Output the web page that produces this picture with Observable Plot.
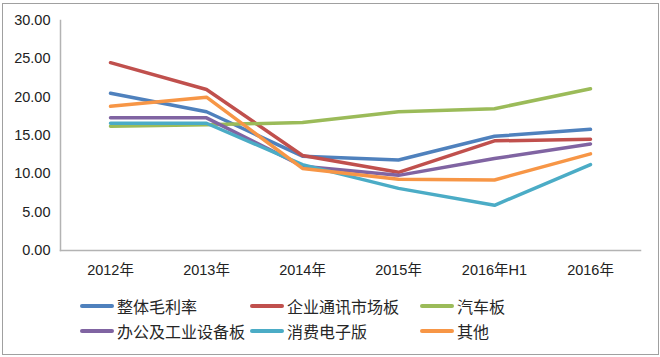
<!DOCTYPE html>
<html><head><meta charset="utf-8">
<script src="https://cdn.jsdelivr.net/npm/d3@7"></script>
<script src="https://cdn.jsdelivr.net/npm/@observablehq/plot@0.6"></script>
<style>
body{margin:0;background:#fff;}
#wrap{position:relative;width:660px;height:357px;overflow:hidden;}
#frame{position:absolute;left:2px;top:3px;width:657px;height:352px;border:1px solid #a0a0a0;box-sizing:border-box;}
#chart{position:absolute;left:0;top:0;}
#legend{position:absolute;left:80px;top:294px;display:grid;grid-template-columns:170px 170px 170px;grid-auto-rows:24.5px;
  font-family:"Noto Sans CJK SC","Noto Sans",sans-serif;font-size:16px;color:#262626;}
.item{display:flex;align-items:center;white-space:nowrap;}
.sw{display:inline-block;width:34px;height:4px;border-radius:2px;margin-right:3px;}
</style>
</head><body>
<div id="wrap"><div id="frame"></div><div id="chart"></div><div id="legend"></div></div>
<script>
const categories = ["2012年","2013年","2014年","2015年","2016年H1","2016年"];
const seriesNames = ["整体毛利率","企业通讯市场板","汽车板","办公及工业设备板","消费电子版","其他"];
const seriesColors = ["#4F81BD","#C0504D","#9BBB59","#8064A2","#4BACC6","#F79646"];
const overall = [20.5, 18.1, 12.3, 11.8, 14.9, 15.8];
const enterprise = [24.5, 21.0, 12.4, 10.2, 14.3, 14.5];
const automotive = [16.2, 16.4, 16.7, 18.1, 18.5, 21.1];
const officeIndustrial = [17.3, 17.3, 11.0, 9.8, 12.0, 13.9];
const consumer = [16.6, 16.6, 11.2, 8.1, 5.9, 11.2];
const other = [18.8, 20.0, 10.7, 9.3, 9.2, 12.6];
const yTicks = [0, 5, 10, 15, 20, 25, 30];

const seriesValues = [overall, enterprise, automotive, officeIndustrial, consumer, other];
const data = seriesNames.flatMap((s, i) => categories.map((c, j) => ({series: s, cat: c, value: seriesValues[i][j]})));

const font = '"Liberation Sans","Noto Sans CJK SC",sans-serif';
const chart = Plot.plot({
  width: 660, height: 280,
  marginTop: 20, marginBottom: 30, marginLeft: 60, marginRight: 20,
  style: {fontFamily: font, fontSize: "14.5px", color: "#222", background: "transparent"},
  x: {type: "point", domain: categories, padding: 0.5, label: null},
  y: {domain: [0, 30], label: null},
  color: {domain: seriesNames, range: seriesColors},
  marks: [
    Plot.frame({anchor: "left", stroke: "#b3b3b3", strokeWidth: 1.5}),
    Plot.frame({anchor: "bottom", stroke: "#b3b3b3", strokeWidth: 1.5}),
    Plot.axisY({ticks: yTicks, tickFormat: d3.format(".2f"), tickSize: 0, tickPadding: 10, fontSize: 14.5}),
    Plot.axisX({tickSize: 0, tickPadding: 14, fontSize: 14.5}),
    Plot.lineY(data, {x: "cat", y: "value", stroke: "series", z: "series", strokeWidth: 3.5, strokeLinejoin: "round", strokeLinecap: "round"})
  ]
});
document.getElementById("chart").appendChild(chart);

const legend = document.getElementById("legend");
seriesNames.forEach((s, i) => {
  const it = document.createElement("div");
  it.className = "item";
  const sw = document.createElement("span");
  sw.className = "sw";
  sw.style.background = seriesColors[i];
  it.appendChild(sw);
  it.appendChild(document.createTextNode(s));
  legend.appendChild(it);
});
</script>
</body></html>
